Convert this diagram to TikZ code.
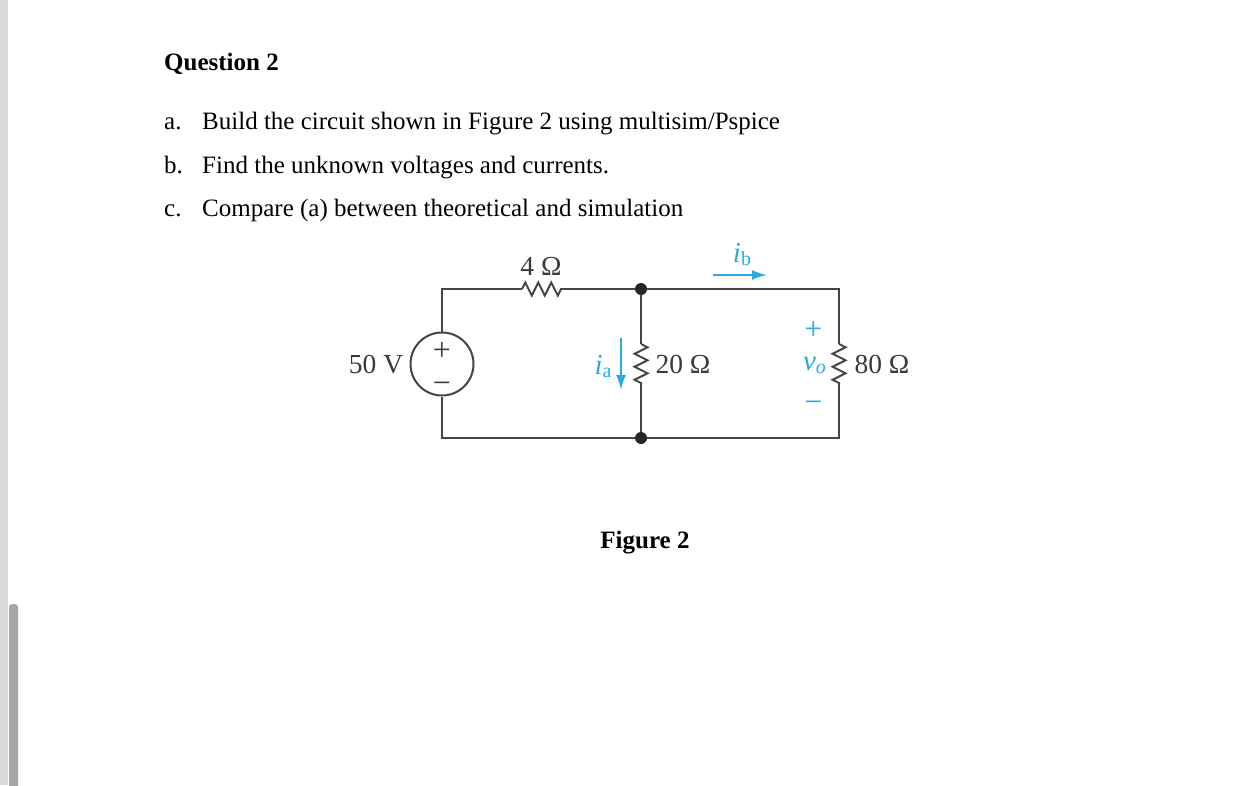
\documentclass[tikz,border=0pt]{standalone}
\usepackage{amsmath,fontspec}
\usetikzlibrary{arrows.meta,decorations.pathmorphing}
\setmainfont{Liberation Serif}
\definecolor{wire_col}{HTML}{454545}
\definecolor{cur_col}{HTML}{29ABE2}
\definecolor{val_col}{HTML}{3A3A3A}

\begin{document}
\begin{tikzpicture}[x=1pt,y=-1pt,
	text_node/.style={anchor=base west,inner sep=0pt,font=\fontsize{25}{25}\selectfont,text=black},
	val_node/.style={inner sep=0pt,font=\fontsize{27.5}{27.5}\selectfont,text=val_col},
	sign_node/.style={inner sep=0pt,font=\fontsize{32}{32}\selectfont},
	cur_node/.style={inner sep=0pt,font=\fontsize{29}{29}\selectfont,text=cur_col},
	src_node/.style={circle,draw=wire_col,line width=2pt,minimum size=63pt,inner sep=0pt},
	dot_node/.style={circle,fill=black!85,minimum size=12pt,inner sep=0pt},
	wire/.style={draw=wire_col,line width=2pt},
	res/.style={wire,decorate,decoration={zigzag,segment length=13pt,amplitude=6.5pt}},
	cur_arrow/.style={draw=cur_col,line width=2pt,-{Latex[length=15pt,width=10pt]}}]

		\useasboundingbox (0,0) rectangle (1242,785);

		% window edge and scrollbar
		\fill[black!15] (0,0) rectangle (8,785);
		\fill[black!35,rounded corners=3pt] (9,604) rectangle (18,795);

		% the question text
		\node[text_node] (title) at (164,70){\textbf{Question 2}};
		\node[text_node] (a) at (164,129){a.};
		\node[text_node] (atext) at (202,129){Build the circuit shown in Figure 2 using multisim/Pspice};
		\node[text_node] (b) at (164,173){b.};
		\node[text_node] (btext) at (202,173){Find the unknown voltages and currents.};
		\node[text_node] (c) at (164,216){c.};
		\node[text_node] (ctext) at (202,216){Compare (a) between theoretical and simulation};
		\node[text_node,anchor=base] (fig) at (645,548){\textbf{Figure 2}};

		% corners and nodes of the circuit
		\node[src_node] (src) at (442,364){};
		\coordinate (tl) at (442,289);
		\coordinate (bl) at (442,438);
		\coordinate (tr) at (839,289);
		\coordinate (br) at (839,438);
		\node[dot_node] (top) at (641,289){};
		\node[dot_node] (bot) at (641,438){};
		\coordinate (r1a) at (522,289);
		\coordinate (r1b) at (562,289);
		\coordinate (r2a) at (641,344);
		\coordinate (r2b) at (641,385);
		\coordinate (r3a) at (839,344);
		\coordinate (r3b) at (839,385);

		% wires
		\path[wire] (src) -- (tl) -- (r1a);
		\path[wire] (r1b) -- (top) -- (tr) -- (r3a);
		\path[wire] (top) -- (r2a);
		\path[wire] (r2b) -- (bot);
		\path[wire] (r3b) -- (br) -- (bot) -- (bl) -- (src);
		\path[res] (r1a) -- (r1b);
		\path[res] (r2a) -- (r2b);
		\path[res] (r3a) -- (r3b);

		% signs of the source
		\node[sign_node,text=val_col] (plus) at (442,351){+};
		\node[sign_node,text=val_col] (minus) at (442,388){\textminus};

		% values
		\node[val_node] (v50) at (376,365){50 V};
		\node[val_node] (r4) at (541,266){4 Ω};
		\node[val_node] (r20) at (683,364){20 Ω};
		\node[val_node] (r80) at (882,364){80 Ω};

		% currents and voltage
		\node[cur_node] (ia) at (603,366){\textit{i}\raisebox{-3pt}{\fontsize{20}{20}\selectfont a}};
		\coordinate (iaa) at (621,338);
		\coordinate (iab) at (621,390);
		\path[cur_arrow] (iaa) -- (iab);
		\node[cur_node] (ib) at (742,254){\textit{i}\raisebox{-3pt}{\fontsize{20}{20}\selectfont b}};
		\coordinate (iba) at (713,275);
		\coordinate (ibb) at (767,275);
		\path[cur_arrow] (iba) -- (ibb);
		\node[sign_node,text=cur_col] (vplus) at (813.5,330){+};
		\node[cur_node] (vo) at (814.5,365){\textit{v}\raisebox{-3pt}{\fontsize{20}{20}\selectfont\textit{o}}};
		\node[sign_node,text=cur_col] (vminus) at (813.5,407){\textminus};

	\end{tikzpicture}
\end{document}
